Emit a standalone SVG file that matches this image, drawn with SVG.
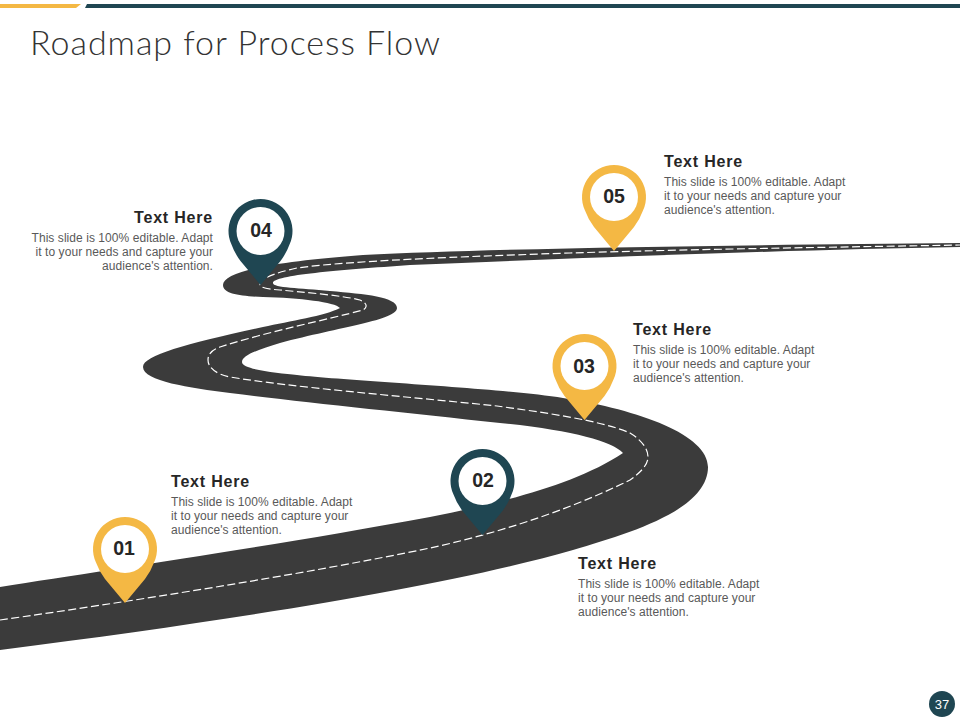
<svg xmlns="http://www.w3.org/2000/svg" width="960" height="720" viewBox="0 0 960 720">
<defs>
<path id="pin" d="M0,54 L-20,30 Q-26,22 -29,13.500 A32,32 0 1 1 29,13.500 Q26,22 20,30 Z"/>
</defs>
<style>
.h{font:bold 16px "Liberation Sans",Arial,sans-serif;letter-spacing:.8px;fill:#262626}
.b{font:12px "Liberation Sans",Arial,sans-serif;letter-spacing:.06px;fill:#595959}
.n{font:bold 19.500px "Liberation Sans",Arial,sans-serif;fill:#262626;text-anchor:middle}
.y{fill:#F4B844}.t{fill:#1F4652}
.e{text-anchor:end}
</style>
<rect width="960" height="720" fill="#fff"/>
<g id="topbar">
<polygon points="0,4 81,4 76,8 0,8" fill="#F4B844"/>
<polygon points="87,4 960,4 960,8 85,8" fill="#1F4652"/>
</g>
<text x="30" y="55" font-family="Lato,sans-serif" font-weight="300" font-size="34" fill="#333" textLength="410">Roadmap for Process Flow</text>
<g id="road">
<path fill="#3B3B3B" d="M0,587 C100,571 250,550 430,517 C500,503 575,485 623,453 C612,441 570,430 500,423 C400,412 300,402 230,393 C190,388 143,381 143,367 C143,355 190,343 263,327 C290,321 325,316 340,308 C335,302 300,298 263,297 C240,296 223,294 223,285 C223,272 270,262 363,255 C500,248 750,245 960,243 L960,247 C800,250 650,255 410,265 C340,270 273,275 273,283 C273,288 300,288 330,291 C365,294 397,297 397,308 C397,320 340,327 280,343 C260,349 242,355 242,362 C242,370 280,373 297,375 C350,381 500,388 563,398 C640,410 708,435 708,467 C708,510 630,533 573,550 C450,585 250,618 0,650 Z"/>
<path fill="none" stroke="#fff" stroke-width="1.200" stroke-dasharray="8 3.500" d="M0,620 C120,603 300,575 430,548 C490,535 563,513 630,480 C640,473 648,465 648,457 C648,445 635,436 630,433 C600,420 540,412 497,406 C400,396 290,387 230,377 C215,374 208,367 208,360 C208,352 215,349 220,347 C270,331 330,319 363,310 C368,307 367,303 360,300 C340,295 300,292 280,290 C265,289 260,287 260,285 C260,278 275,273 297,268 C340,262 420,258 570,253 C700,249 850,247 960,245"/>
</g>
<g id="node-01"><use href="#pin" x="125" y="549" class="y"/><circle cx="125" cy="549" r="24" fill="#fff"/><text class="n" x="124" y="555">01</text></g>
<g id="node-02"><use href="#pin" x="482.500" y="481" class="t"/><circle cx="482.500" cy="481" r="24" fill="#fff"/><text class="n" x="483" y="487">02</text></g>
<g id="node-03"><use href="#pin" x="584.500" y="366" class="y"/><circle cx="584.500" cy="366" r="24" fill="#fff"/><text class="n" x="584" y="373">03</text></g>
<g id="node-04"><use href="#pin" x="260.500" y="231" class="t"/><circle cx="260.500" cy="231" r="24" fill="#fff"/><text class="n" x="261" y="237">04</text></g>
<g id="node-05"><use href="#pin" x="614" y="197" class="y"/><circle cx="614" cy="197" r="24" fill="#fff"/><text class="n" x="614" y="203">05</text></g>
<g id="text-01"><text class="h" x="171" y="487">Text Here</text><text class="b" x="171" y="506">This slide is 100% editable. Adapt</text><text class="b" x="171" y="520">it to your needs and capture your</text><text class="b" x="171" y="534">audience's attention.</text></g>
<g id="text-02"><text class="h" x="578" y="569">Text Here</text><text class="b" x="578" y="588">This slide is 100% editable. Adapt</text><text class="b" x="578" y="602">it to your needs and capture your</text><text class="b" x="578" y="616">audience's attention.</text></g>
<g id="text-03"><text class="h" x="633" y="335">Text Here</text><text class="b" x="633" y="354">This slide is 100% editable. Adapt</text><text class="b" x="633" y="368">it to your needs and capture your</text><text class="b" x="633" y="382">audience's attention.</text></g>
<g id="text-04"><text class="h e" x="213" y="223">Text Here</text><text class="b e" x="213" y="242">This slide is 100% editable. Adapt</text><text class="b e" x="213" y="256">it to your needs and capture your</text><text class="b e" x="213" y="270">audience's attention.</text></g>
<g id="text-05"><text class="h" x="664" y="167">Text Here</text><text class="b" x="664" y="186">This slide is 100% editable. Adapt</text><text class="b" x="664" y="200">it to your needs and capture your</text><text class="b" x="664" y="214">audience's attention.</text></g>
<g id="page"><circle cx="942" cy="704" r="13" fill="#1F4652"/><text x="942" y="709" font-family="Liberation Sans,sans-serif" font-size="13" fill="#fff" text-anchor="middle">37</text></g>
</svg>
